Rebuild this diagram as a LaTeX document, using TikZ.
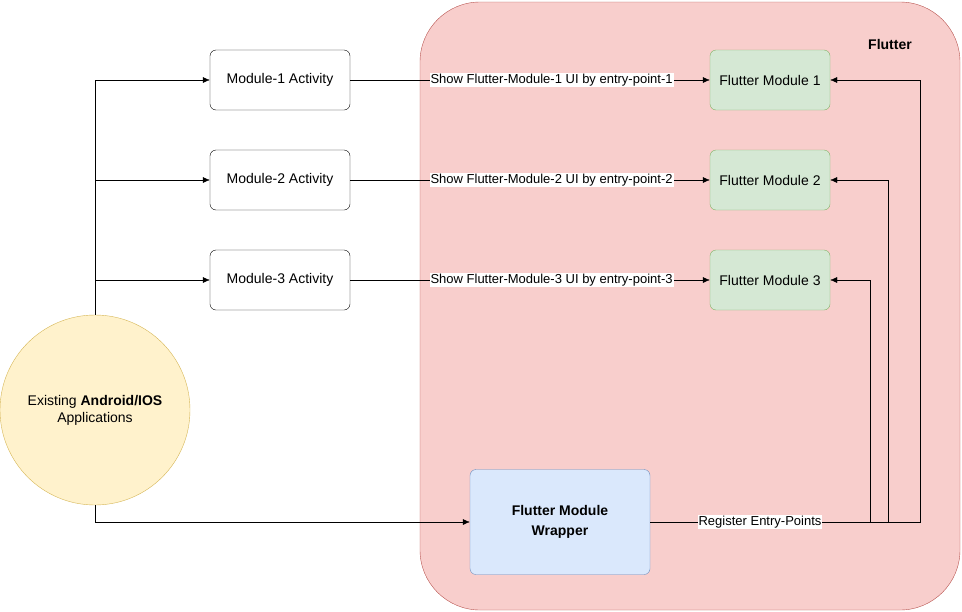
\documentclass[tikz,border=0pt]{standalone}
\usepackage{fontspec}
\setmainfont{Liberation Sans}
\usetikzlibrary{arrows.meta}
\definecolor{redfill}{HTML}{F8CECC}
\definecolor{reddraw}{HTML}{B85450}
\definecolor{greenfill}{HTML}{D5E8D4}
\definecolor{greendraw}{HTML}{82B366}
\definecolor{bluefill}{HTML}{DAE8FC}
\definecolor{bluedraw}{HTML}{6C8EBF}
\definecolor{yellowfill}{HTML}{FFF2CC}
\definecolor{yellowdraw}{HTML}{D6B656}
\tikzset{ act/.style = { draw
                       , rounded corners = 6pt
                       , minimum width   = 140pt
                       , minimum height  = 60pt
                       , font = \fontsize{14}{16}\selectfont
                       },
          fm/.style  = { act
                       , fill = greenfill
                       , draw = greendraw
                       , minimum width = 120pt
                       },
          lbl/.style = { fill = white
                       , inner sep = 1pt
                       , font = \fontsize{13}{15}\selectfont
                       },
          arr/.style = { -{Latex[length=7pt,width=6pt]} }
        }
\begin{document}
\begin{tikzpicture}[x=1pt, y=-1pt]
  \useasboundingbox (0,0) rectangle (962,611);
  % flutter area
  \filldraw[fill=redfill, draw=reddraw, rounded corners=60pt] (420,2) rectangle (960,610);
  \node[font=\bfseries\fontsize{14}{16}\selectfont] (flutter) at (890,44) {Flutter};
  % existing apps
  \node[circle, draw=yellowdraw, fill=yellowfill, minimum size=190pt,
        align=center, font=\fontsize{14}{17}\selectfont] (app) at (95,410)
        {Existing \textbf{Android/IOS}\\Applications};
  % activities and modules
  \foreach \i/\y in {1/80, 2/180, 3/280} {
    \node[act] (act\i) at (280,\y) {Module-\i{} Activity};
    \node[fm]  (fm\i)  at (770,\y) {Flutter Module \i};
    \draw[arr] (act\i) -- node[lbl, pos=0.56] {Show Flutter-Module-\i{} UI by entry-point-\i} (fm\i);
  }
  \node[act, fill=bluefill, draw=bluedraw, minimum width=180pt, minimum height=105pt,
        align=center, font=\bfseries\fontsize{14}{20}\selectfont] (wrap) at (560,522)
        {Flutter Module\\Wrapper};
  % branches
  \coordinate (top) at (95,80);
  \draw (app.north) -- (top);
  \draw[arr] (top) -- (act1);
  \draw[arr] (95,180) -- (act2);
  \draw[arr] (95,280) -- (act3);
  \draw[arr] (app.south) |- (wrap);
  % register
  \draw[arr] (wrap.east) -| (920,80) -- (fm1);
  \draw[arr] (wrap.east) -| (888,180) -- (fm2);
  \draw[arr] (wrap.east) -| (870,280) -- (fm3);
  \node[lbl] (reg) at (760,522) {Register Entry-Points};
\end{tikzpicture}
\end{document}
